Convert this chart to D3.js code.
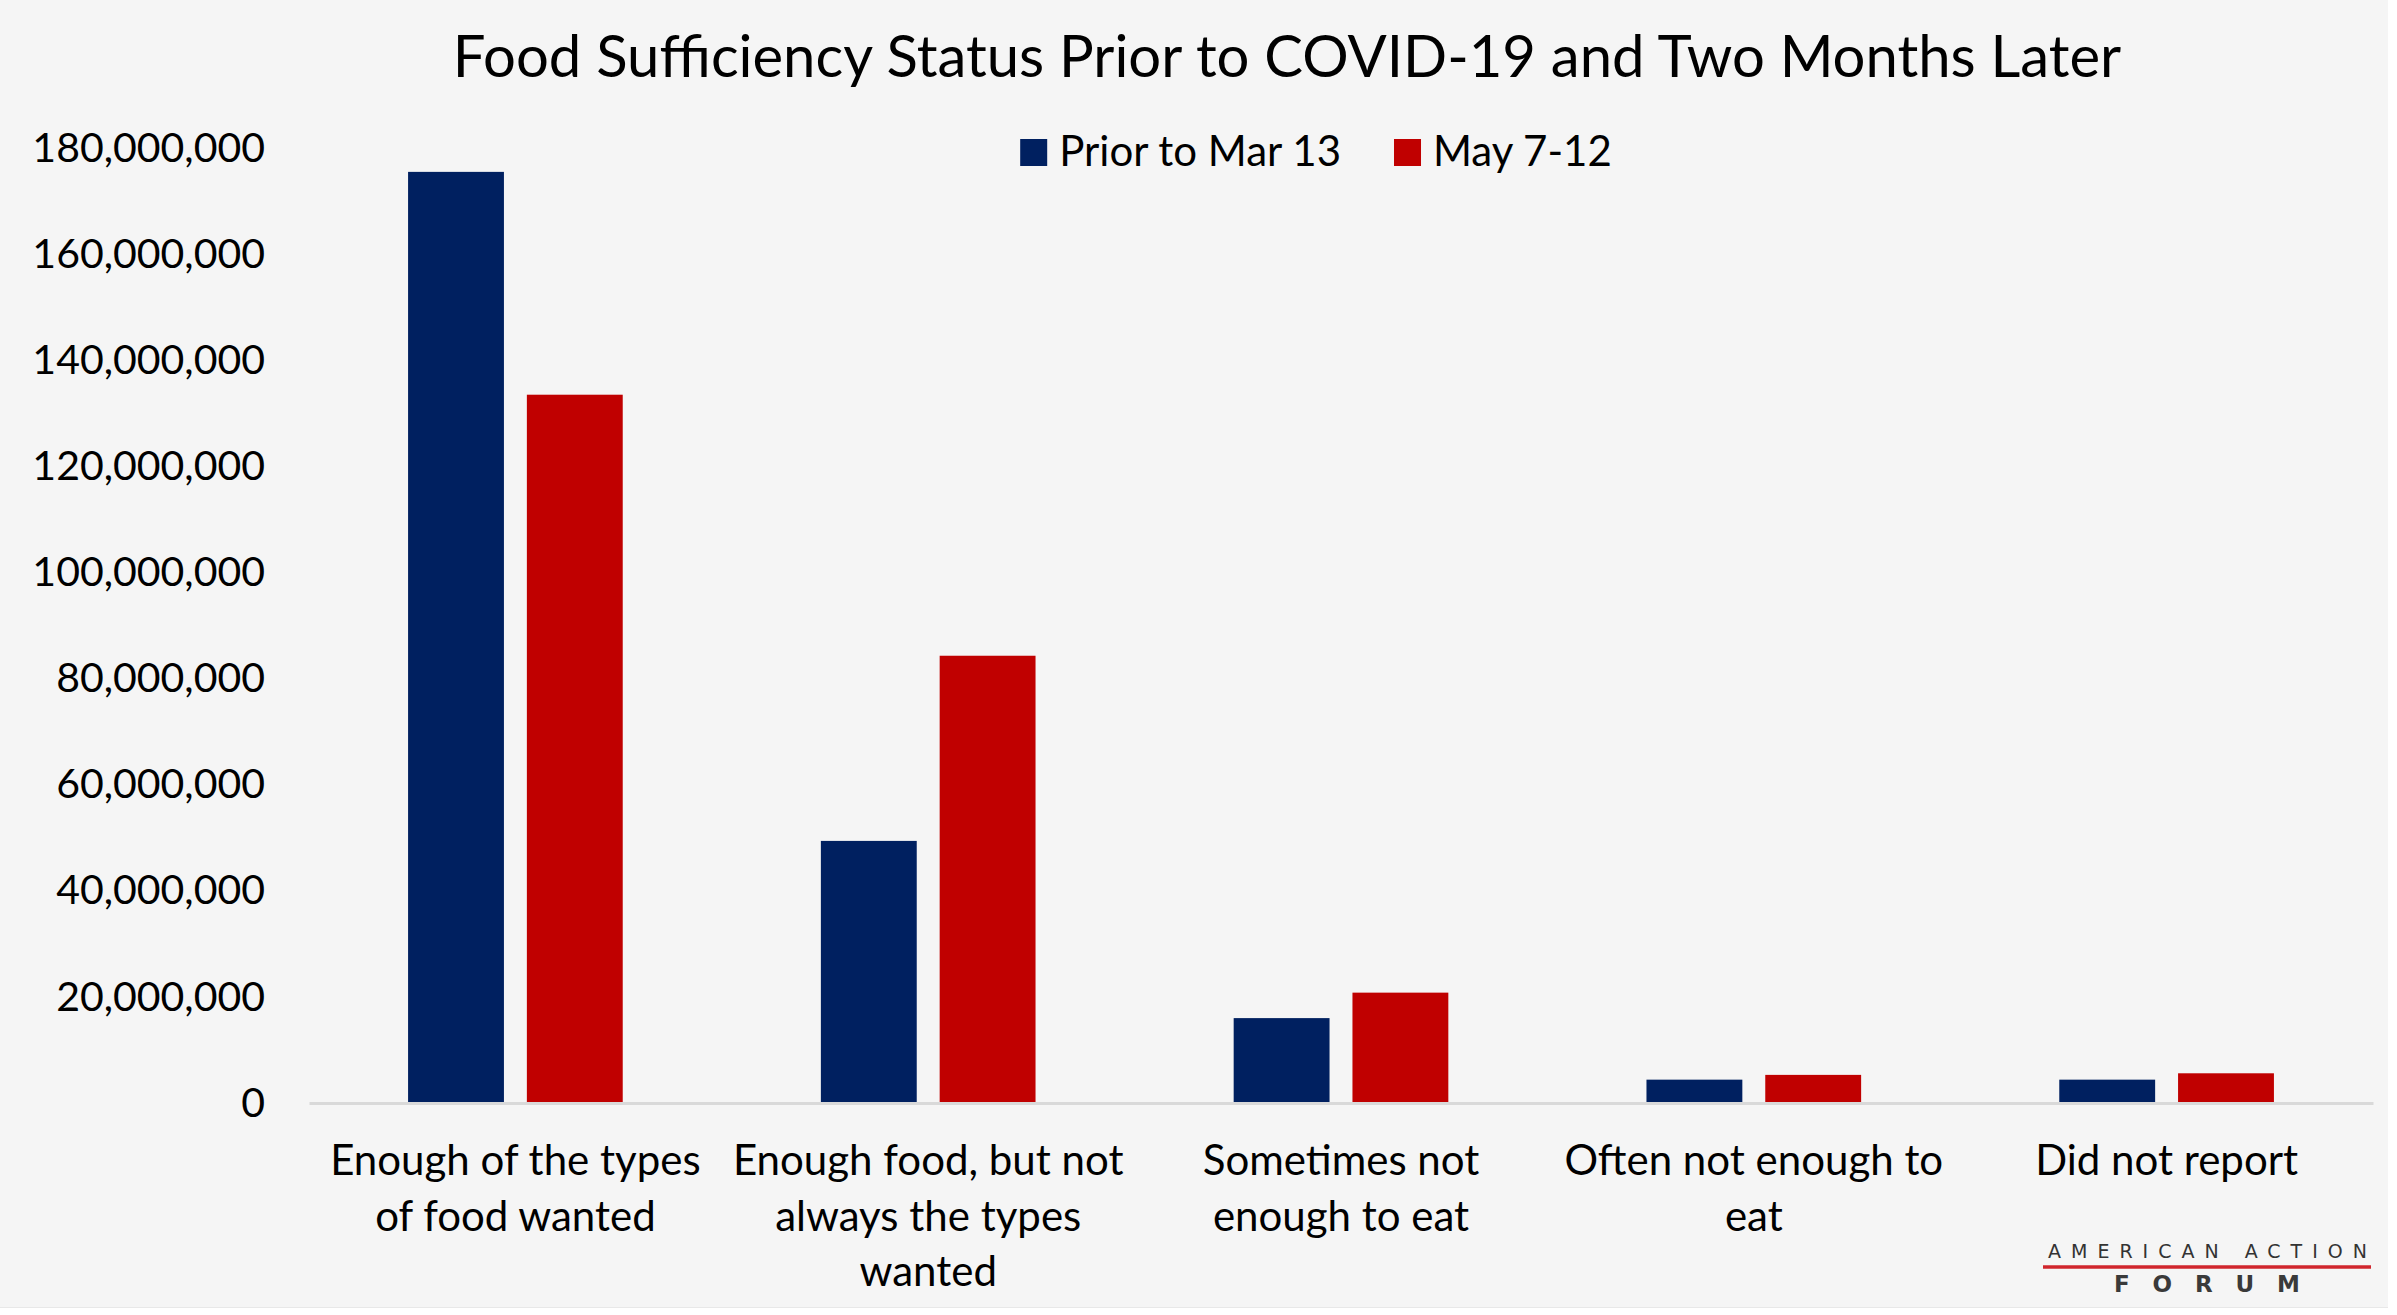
<!DOCTYPE html>
<html>
<head>
<meta charset="utf-8">
<script src="https://cdn.jsdelivr.net/npm/d3@7"></script>
<style>
  body { margin: 0; background: #ffffff; }
  svg { display: block; font-family: Lato, "Open Sans", sans-serif; }
</style>
</head>
<body>
<svg></svg>
<script>
const size = { w: 2397, h: 1315 };
const margin = { t: 148, r: 24, b: 212, l: 309 };

// data
const categories = [
	"Enough of the types\nof food wanted",
	"Enough food, but not\nalways the types\nwanted",
	"Sometimes not\nenough to eat",
	"Often not enough to\neat",
	"Did not report",
];
const series = ["Prior to Mar 13", "May 7-12"];
const priorValues = [175500000, 49400000, 16000000, 4400000, 4400000];
const mayValues = [133500000, 84300000, 20800000, 5300000, 5600000];
const yTicks = [0, 20000000, 40000000, 60000000, 80000000, 100000000, 120000000, 140000000, 160000000, 180000000];
const colors = ["#002060", "#c00000"];

const svg = d3.select("svg").attr("width", size.w).attr("height", size.h);

// chart area background (the picture has a thin white margin on the right and bottom)
svg.append("rect")
	.attr("width", 2388)
	.attr("height", 1307)
	.attr("fill", "#f5f5f5");
svg.append("line")
	.attr("x1", 0).attr("x2", 2388)
	.attr("y1", 1307.5).attr("y2", 1307.5)
	.attr("stroke", "#e8e8e8")
	.attr("stroke-width", 1);

const rows = categories.map((c, i) => ({ cat: c, values: [priorValues[i], mayValues[i]] }));

let x = d3.scaleBand()
	.domain(categories)
	.range([margin.l, size.w - margin.r])
	.paddingInner(0.48)
	.paddingOuter(0.24);

let xSub = d3.scaleBand()
	.domain(series)
	.range([0, x.bandwidth()])
	.paddingInner(0.193);

let y = d3.scaleLinear()
	.domain([0, 180000000])
	.range([size.h - margin.b, margin.t]);

// title
svg.append("text")
	.attr("x", 1287)
	.attr("y", 77)
	.attr("text-anchor", "middle")
	.attr("font-size", 58)
	.attr("fill", "#000")
	.text("Food Sufficiency Status Prior to COVID-19 and Two Months Later");

// y axis, labels only
let yAxisG = svg.append("g")
	.attr("transform", `translate(${margin.l},0)`)
	.call(d3.axisLeft(y).tickValues(yTicks).tickSize(0).tickPadding(44).tickFormat(d3.format(",")));
yAxisG.select(".domain").remove();
yAxisG.selectAll("text")
	.attr("font-size", 41)
	.attr("font-family", "Lato, 'Open Sans', sans-serif")
	.attr("fill", "#000");

// bars
let groups = svg.append("g").classed("bars", true)
	.selectAll("g")
	.data(rows)
	.join("g")
	.attr("transform", (d) => `translate(${x(d.cat)},0)`);

groups.selectAll("rect")
	.data((d) => d.values.map((v, i) => ({ key: series[i], value: v, i: i })))
	.join("rect")
	.attr("x", (d) => xSub(d.key))
	.attr("width", xSub.bandwidth())
	.attr("y", (d) => y(d.value))
	.attr("height", (d) => y(0) - y(d.value))
	.attr("fill", (d) => colors[d.i]);

// x axis
let xAxisG = svg.append("g")
	.attr("transform", `translate(0,${y(0)})`)
	.call(d3.axisBottom(x).tickSize(0).tickSizeOuter(0).tickPadding(0));
xAxisG.select(".domain")
	.attr("stroke", "#d9d9d9")
	.attr("stroke-width", 3);

xAxisG.selectAll(".tick text")
	.attr("font-size", 42)
	.attr("font-family", "Lato, 'Open Sans', sans-serif")
	.attr("fill", "#000")
	.attr("dy", null)
	.attr("y", 72)
	.each(function (d) {
		let t = d3.select(this);
		t.text(null);
		d.split("\n").forEach((line, i) => {
			t.append("tspan")
				.attr("x", 0)
				.attr("dy", i === 0 ? 0 : 55.5)
				.text(line);
		});
	});

// legend, centred above the plot
let legend = svg.append("g").classed("legend", true);
let sw = 27, gapText = 12, gapItem = 53;
let cursor = 0;
series.forEach((s, i) => {
	let item = legend.append("g").attr("transform", `translate(${cursor},0)`);
	item.append("rect")
		.attr("x", 0)
		.attr("y", 139)
		.attr("width", sw)
		.attr("height", sw)
		.attr("fill", colors[i]);
	let txt = item.append("text")
		.attr("x", sw + gapText)
		.attr("y", 166)
		.attr("font-size", 42)
		.attr("fill", "#000")
		.text(s);
	cursor += sw + gapText + txt.node().getComputedTextLength() + gapItem;
});
let legendW = cursor - gapItem;
legend.attr("transform", `translate(${1316 - legendW / 2},0)`);

// logo
let logo = svg.append("g").classed("logo", true);
logo.append("text")
	.attr("x", 2048)
	.attr("y", 1258)
	.attr("font-size", 19)
	.attr("font-family", "'DejaVu Sans', 'Liberation Sans', sans-serif")
	.attr("fill", "#333")
	.attr("textLength", 319)
	.attr("lengthAdjust", "spacing")
	.text("AMERICAN ACTION");
logo.append("line")
	.attr("x1", 2043)
	.attr("x2", 2371)
	.attr("y1", 1267)
	.attr("y2", 1267)
	.attr("stroke", "#d0262d")
	.attr("stroke-width", 3.5);
logo.append("text")
	.attr("x", 2114)
	.attr("y", 1292)
	.attr("font-size", 23)
	.attr("font-weight", "bold")
	.attr("font-family", "'DejaVu Sans', 'Liberation Sans', sans-serif")
	.attr("fill", "#3a3a3a")
	.attr("textLength", 186)
	.attr("lengthAdjust", "spacing")
	.text("FORUM");
</script>
</body>
</html>
